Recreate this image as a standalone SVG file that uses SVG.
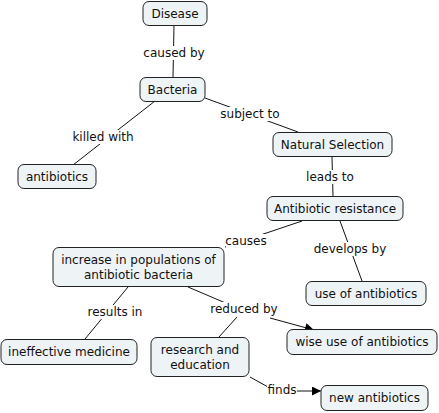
<svg xmlns="http://www.w3.org/2000/svg" width="439" height="413" viewBox="0 0 439 413">
<style>
.n rect{fill:#eef3f6;stroke:#222;stroke-width:1}
text{font-family:"DejaVu Sans",Verdana,sans-serif;font-size:12px;fill:#111;text-anchor:middle}
.c line{stroke:#111;stroke-width:1}
.lb rect{fill:#fff;stroke:none}
</style>
<defs>
<marker id="ah" viewBox="0 0 10 10" refX="10" refY="5" markerWidth="11" markerHeight="9" markerUnits="userSpaceOnUse" orient="auto">
<path d="M0,0 L10,5 L0,10 Z" fill="#000"/>
</marker>
</defs>
<rect width="439" height="413" fill="#fff"/>
<g id="connectors" class="c">
<line x1="174" y1="25" x2="173" y2="77"/>
<line x1="155" y1="101" x2="73" y2="165"/>
<line x1="205" y1="98" x2="298" y2="132"/>
<line x1="332" y1="157" x2="333" y2="196"/>
<line x1="302" y1="221" x2="225" y2="247"/>
<line x1="340" y1="221" x2="362" y2="281"/>
<line x1="128" y1="287" x2="85" y2="339"/>
<line x1="188" y1="287" x2="235" y2="307"/>
<line x1="237" y1="317" x2="219" y2="337"/>
<line x1="270" y1="318" x2="314" y2="330" marker-end="url(#ah)"/>
<line x1="250" y1="377" x2="268" y2="387"/>
<line x1="297" y1="391" x2="321" y2="391" marker-end="url(#ah)"/>
<g class="lb">
<rect x="142" y="46" width="62" height="14"/>
<rect x="72" y="130" width="62" height="14"/>
<rect x="220" y="107" width="60" height="14"/>
<rect x="306" y="170" width="49" height="14"/>
<rect x="226" y="234" width="40" height="14"/>
<rect x="313" y="242" width="73" height="14"/>
<rect x="86" y="305" width="57" height="14"/>
<rect x="210" y="302" width="68" height="14"/>
<rect x="267" y="383" width="30" height="14"/>
</g>
<text x="174" y="57">caused by</text>
<text x="103" y="141">killed with</text>
<text x="250" y="118">subject to</text>
<text x="330" y="181">leads to</text>
<text x="246" y="245">causes</text>
<text x="350" y="253">develops by</text>
<text x="115" y="316">results in</text>
<text x="244" y="313">reduced by</text>
<text x="282" y="394">finds</text>
</g>
<g id="disease" class="n"><rect x="143" y="1.5" width="64" height="24" rx="6"/><text x="175" y="18">Disease</text></g>
<g id="bacteria" class="n"><rect x="140" y="77.5" width="65" height="24" rx="6"/><text x="172.5" y="94">Bacteria</text></g>
<g id="antibiotics" class="n"><rect x="18" y="164.5" width="78" height="24" rx="6"/><text x="57" y="181">antibiotics</text></g>
<g id="natural-selection" class="n"><rect x="273" y="132.5" width="119" height="24" rx="6"/><text x="332.5" y="149">Natural Selection</text></g>
<g id="antibiotic-resistance" class="n"><rect x="267" y="196.5" width="136" height="24" rx="6"/><text x="335" y="213">Antibiotic resistance</text></g>
<g id="use-of-antibiotics" class="n"><rect x="306" y="281.5" width="120" height="24" rx="6"/><text x="366" y="298">use of antibiotics</text></g>
<g id="increase" class="n"><rect x="53" y="247.5" width="171" height="39" rx="6"/><text x="138.5" y="264">increase in populations of</text><text x="138.5" y="279">antibiotic bacteria</text></g>
<g id="ineffective-medicine" class="n"><rect x="1" y="339.5" width="136" height="25" rx="6"/><text x="69" y="356">ineffective medicine</text></g>
<g id="research" class="n"><rect x="151" y="337.5" width="98" height="39" rx="6"/><text x="200" y="354">research and</text><text x="200" y="369">education</text></g>
<g id="wise-use" class="n"><rect x="287" y="329.5" width="150" height="25" rx="6"/><text x="362" y="346">wise use of antibiotics</text></g>
<g id="new-antibiotics" class="n"><rect x="321" y="385.5" width="107" height="25" rx="6"/><text x="374.5" y="402">new antibiotics</text></g>
</svg>
